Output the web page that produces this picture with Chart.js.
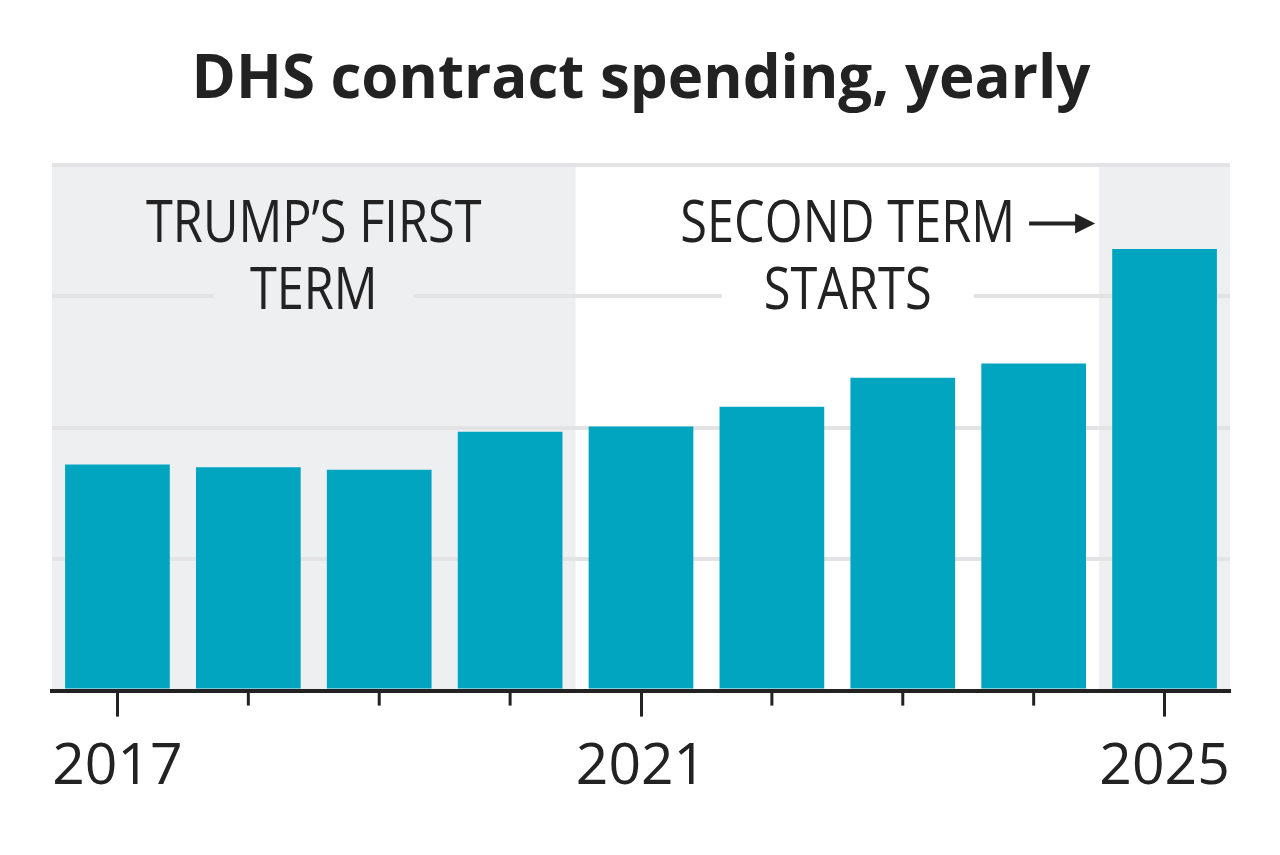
<!DOCTYPE html>
<html lang="en">
<head>
    <meta charset="UTF-8">
    <title>DHS contract spending, yearly</title>
    <script src="https://cdn.jsdelivr.net/npm/chart.js"></script>
    <style>
        body {
            margin: 0;
            background: white;
        }
        .chart-box {
            width: 1280px;
            height: 855px;
        }
    </style>
</head>
<body>
    <div class="chart-box">
        <canvas id="spendingChart"></canvas>
    </div>

    <script>
        // Data (values in $ billions, approx.)
        const years = ['2017', '2018', '2019', '2020', '2021', '2022', '2023', '2024', '2025'];
        const spending = [17.2, 17.0, 16.8, 19.7, 20.1, 21.6, 23.8, 24.9, 33.6];
        const labeledYears = ['2017', '2021', '2025'];
        const yTicks = [0, 10, 20, 30, 40];

        // Shaded periods and their notes
        const firstTermYears = ['2017', '2018', '2019', '2020'];
        const secondTermYears = ['2025'];
        const firstTermNote = ['TRUMP\u2019S FIRST', 'TERM'];
        const secondTermNote = ['SECOND TERM', 'STARTS'];

        const INK = '#222222';
        const SHADE = '#eeeff1';
        const GRID = '#e3e3e5';
        const BAR = '#02a5c0';
        const NOTE_FONT = '400 58px "Open Sans"';
        const NOTE_SQUEEZE = 0.84;

        function spanPixels(scale, list) {
            const step = scale.getPixelForValue(1) - scale.getPixelForValue(0);
            const a = scale.getPixelForValue(years.indexOf(list[0]));
            const b = scale.getPixelForValue(years.indexOf(list[list.length - 1]));
            return [a - step / 2, b + step / 2];
        }

        function squeezedText(ctx, text, x, y) {
            ctx.save();
            ctx.translate(x, y);
            ctx.scale(NOTE_SQUEEZE, 1);
            ctx.fillText(text, 0, 0);
            ctx.restore();
        }

        // shaded bands, gridline gaps, notes, minor ticks
        const termPlugin = {
            id: 'terms',
            beforeDraw(chart) {
                const { ctx, chartArea, scales } = chart;
                ctx.save();
                ctx.fillStyle = SHADE;
                [firstTermYears, secondTermYears].forEach(list => {
                    const [l, r] = spanPixels(scales.x, list);
                    ctx.fillRect(l, chartArea.top, r - l, chartArea.bottom - chartArea.top);
                });
                ctx.restore();
            },
            beforeDatasetsDraw(chart) {
                const { ctx, scales } = chart;
                const x = scales.x;
                const yLine = scales.y.getPixelForValue(30);
                const y2 = yLine - 4;
                const y1 = y2 - 67;
                const [firstL, firstR] = spanPixels(x, firstTermYears);
                const [secondL] = spanPixels(x, secondTermYears);

                ctx.save();
                ctx.font = NOTE_FONT;
                ctx.textAlign = 'center';
                ctx.textBaseline = 'middle';

                // first term note, centered in its band
                const c1 = (firstL + firstR) / 2;
                const w1 = ctx.measureText(firstTermNote[1]).width * NOTE_SQUEEZE;
                ctx.fillStyle = SHADE;
                ctx.fillRect(c1 - w1 / 2 - 36, yLine - 4, w1 + 72, 8);

                // second term note, arrow pointing at 2025 band
                const tip = secondL - 4;
                const arrowStart = tip - 66;
                const topW = ctx.measureText(secondTermNote[0]).width * NOTE_SQUEEZE;
                const c2 = arrowStart - 14 - topW / 2;
                const w2 = ctx.measureText(secondTermNote[1]).width * NOTE_SQUEEZE;
                ctx.fillStyle = 'white';
                ctx.fillRect(c2 - w2 / 2 - 42, yLine - 4, w2 + 84, 8);

                ctx.fillStyle = INK;
                squeezedText(ctx, firstTermNote[0], c1, y1);
                squeezedText(ctx, firstTermNote[1], c1, y2);
                squeezedText(ctx, secondTermNote[0], c2, y1);
                squeezedText(ctx, secondTermNote[1], c2, y2);

                // arrow
                const ay = y1 - 2;
                ctx.strokeStyle = INK;
                ctx.lineWidth = 4;
                ctx.beginPath();
                ctx.moveTo(arrowStart, ay);
                ctx.lineTo(tip - 16, ay);
                ctx.stroke();
                ctx.beginPath();
                ctx.moveTo(tip, ay);
                ctx.lineTo(tip - 20, ay - 10);
                ctx.lineTo(tip - 20, ay + 10);
                ctx.closePath();
                ctx.fill();
                ctx.restore();
            },
            afterDraw(chart) {
                const { ctx, chartArea, scales } = chart;
                ctx.save();
                ctx.strokeStyle = INK;
                ctx.lineWidth = 3;
                years.forEach((yr, i) => {
                    if (labeledYears.includes(yr)) return;
                    const px = scales.x.getPixelForValue(i);
                    ctx.beginPath();
                    ctx.moveTo(px, chartArea.bottom);
                    ctx.lineTo(px, chartArea.bottom + 15);
                    ctx.stroke();
                });
                ctx.restore();
            }
        };

        const ctx = document.getElementById('spendingChart').getContext('2d');
        new Chart(ctx, {
            type: 'bar',
            data: {
                labels: years,
                datasets: [{
                    label: 'DHS contract spending',
                    data: spending,
                    backgroundColor: BAR,
                    borderWidth: 0,
                    categoryPercentage: 1,
                    barPercentage: 0.8
                }]
            },
            options: {
                responsive: true,
                maintainAspectRatio: false,
                animation: false,
                layout: {
                    padding: { left: 52, right: 50, top: 0, bottom: 36 }
                },
                scales: {
                    x: {
                        grid: {
                            offset: false,
                            drawOnChartArea: false,
                            tickLength: 26,
                            tickWidth: 3,
                            tickColor: c => labeledYears.includes(years[c.index]) ? INK : 'transparent'
                        },
                        border: { color: INK, width: 4 },
                        ticks: {
                            autoSkip: false,
                            maxRotation: 0,
                            padding: 17,
                            color: INK,
                            font: { family: '"Open Sans"', size: 57 },
                            callback: (v, i) => labeledYears.includes(years[i]) ? years[i] : ''
                        }
                    },
                    y: {
                        min: yTicks[0],
                        max: yTicks[yTicks.length - 1],
                        afterBuildTicks: axis => {
                            axis.ticks = yTicks.map(v => ({ value: v }));
                        },
                        afterFit: axis => { axis.width = 0; },
                        grid: { color: GRID, lineWidth: 4, drawTicks: false },
                        border: { display: false },
                        ticks: { display: false }
                    }
                },
                plugins: {
                    legend: { display: false },
                    tooltip: { enabled: false },
                    title: {
                        display: true,
                        text: 'DHS contract spending, yearly',
                        color: INK,
                        font: { family: '"Open Sans"', weight: 'bold', size: 60 },
                        padding: { top: 45, bottom: 48 }
                    }
                }
            },
            plugins: [termPlugin]
        });
    </script>
</body>
</html>
